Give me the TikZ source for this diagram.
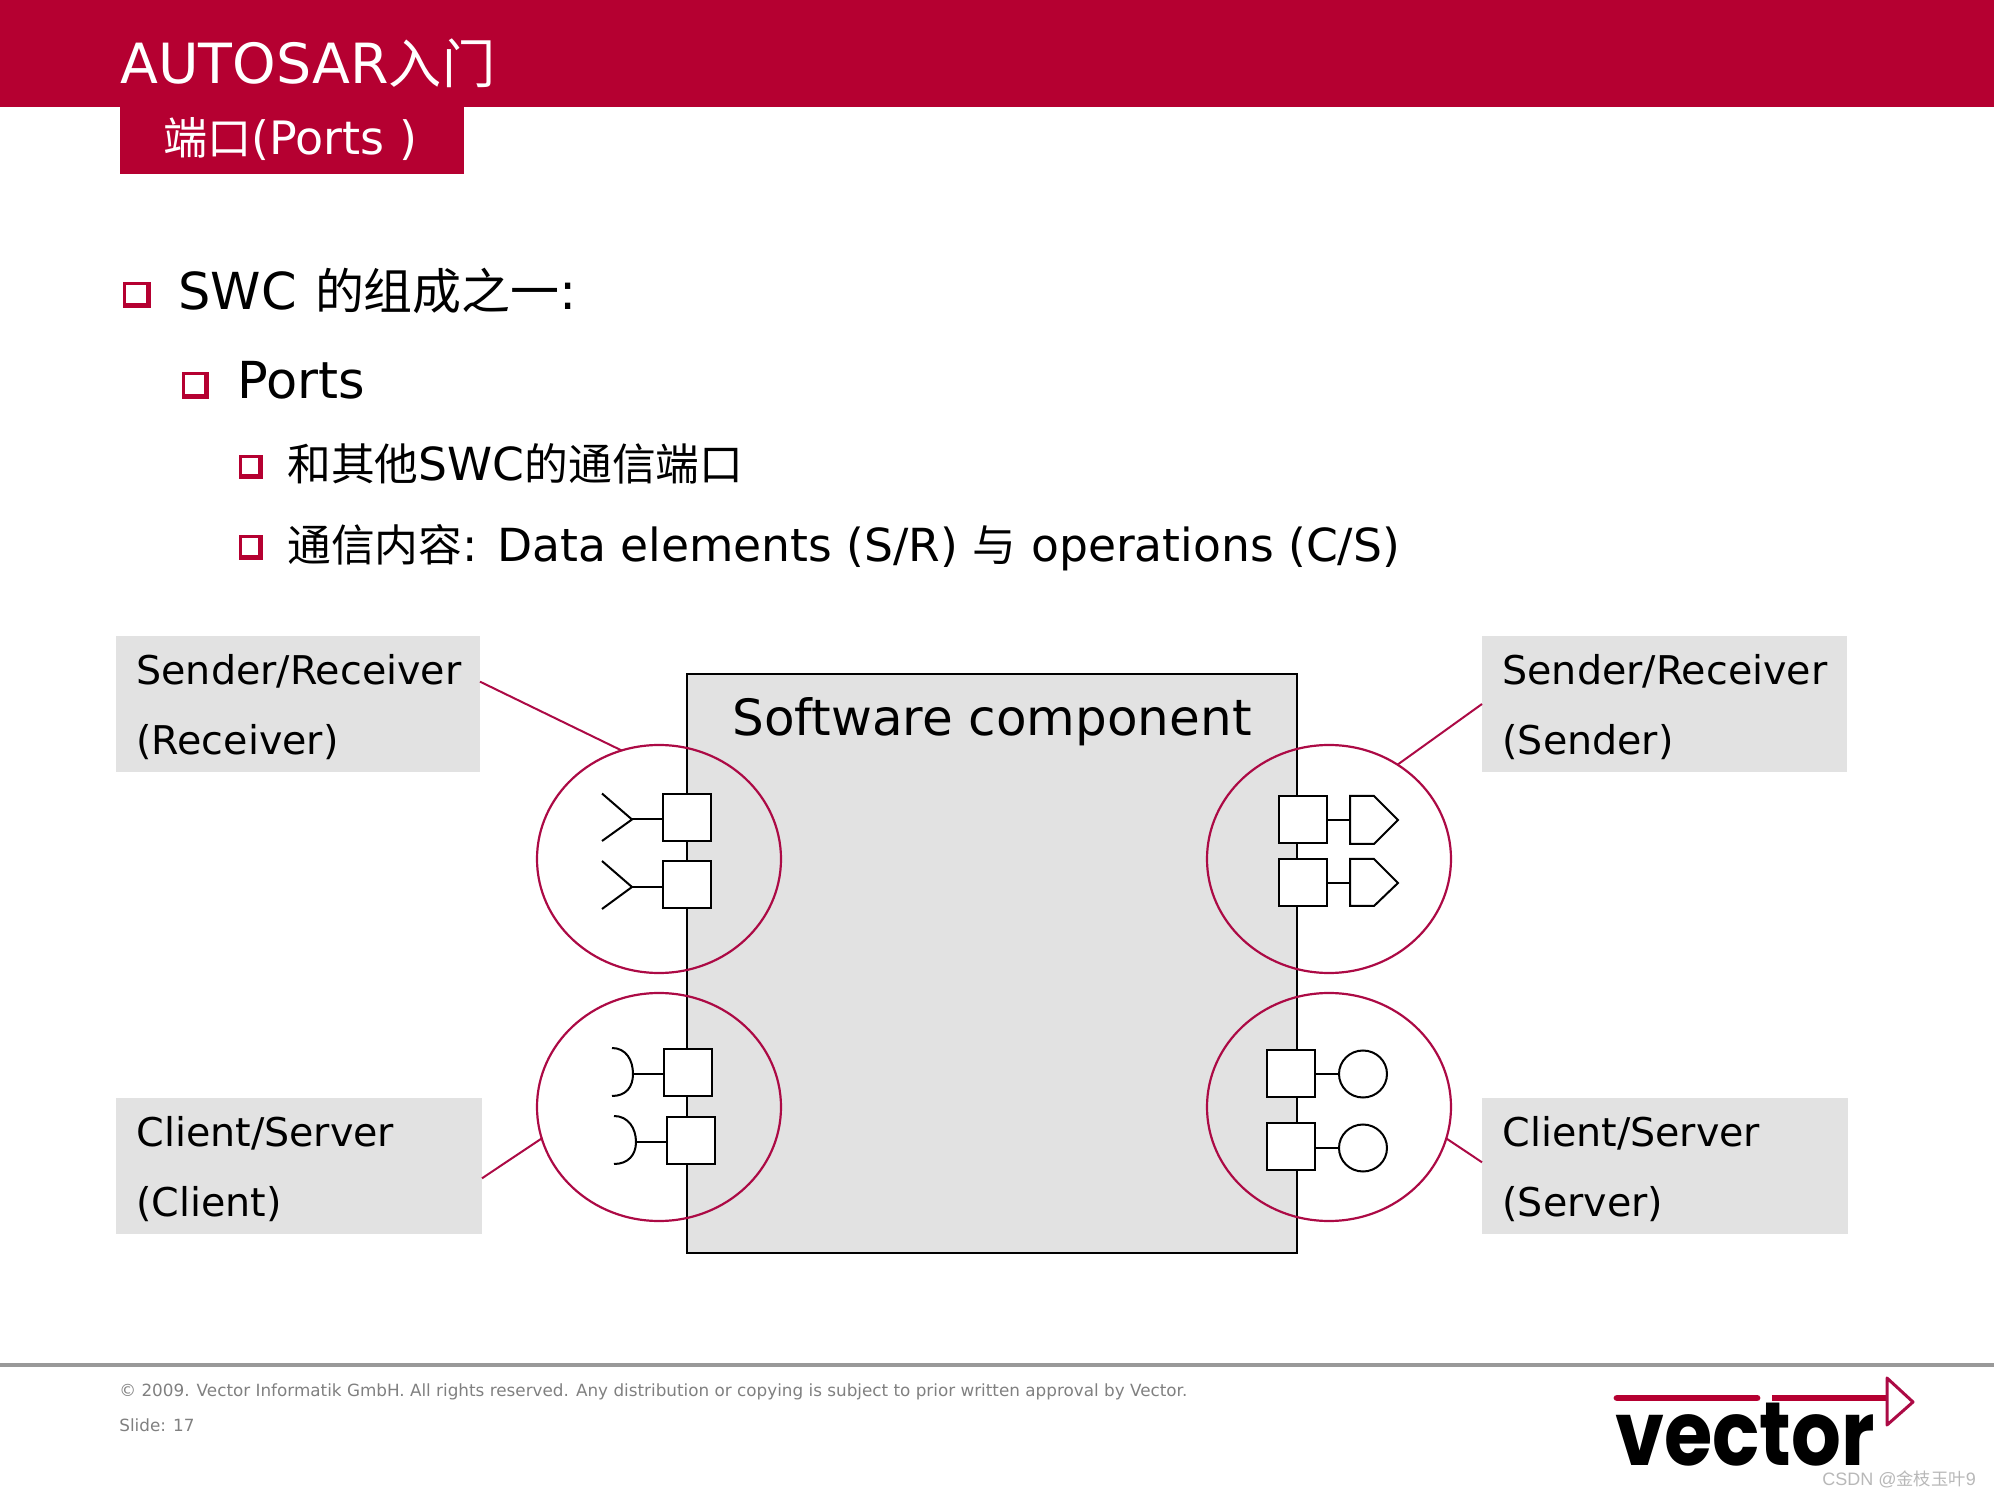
\documentclass[tikz,border=0pt]{standalone}
\usepackage{fontspec}
\usepackage{xcolor}
\setmainfont{DejaVu Sans}
\newfontfamily\cjk[Scale=0.96]{Noto Sans CJK SC}
\newfontfamily\logofont{Poppins}
\newfontfamily\markfont{Liberation Sans}
\usetikzlibrary{shapes.geometric}

\definecolor{bannerred}{HTML}{B50031}
\definecolor{ringred}{HTML}{AC0A45}
\definecolor{panelgray}{HTML}{E2E2E2}

\tikzset{
  titletext/.style={anchor=base west, inner sep=0pt, text=white},
  linetext/.style={anchor=base west, inner sep=0pt, text=black},
  swcbox/.style={draw=black, fill=panelgray, line width=1.2pt, minimum width=305pt, minimum height=289.5pt, inner sep=0pt, outer sep=0pt},
  ring/.style={draw=ringred, ellipse, line width=1.1pt, minimum width=122pt, minimum height=114pt, inner sep=0pt, outer sep=0pt},
  portbox/.style={draw=black, fill=white, line width=1pt, minimum width=24pt, minimum height=23.5pt, inner sep=0pt, outer sep=0pt},
  ballnode/.style={draw=black, fill=white, ellipse, line width=1pt, minimum width=24pt, minimum height=23.5pt, inner sep=0pt, outer sep=0pt},
  tagbox/.style={fill=panelgray, minimum width=182.5pt, minimum height=68pt, inner sep=0pt, outer sep=0pt},
  tagtext/.style={anchor=base west, inner sep=0pt, text=black, font=\fontsize{19.8}{20}\selectfont},
  wire/.style={draw=black, line width=1pt},
  redwire/.style={draw=ringred, line width=1pt},
  foot/.style={anchor=base west, inner sep=0pt, text=black!50, font=\fontsize{8.4}{10}\selectfont}
}

\begin{document}
\begin{tikzpicture}[x=0.5pt, y=-0.5pt]
  \useasboundingbox (0,0) rectangle (1994,1497);

  % Banner
  \fill[bannerred] (0,0) rectangle (1994,107);
  \fill[bannerred] (120,107) rectangle (464,174);
  \node (title) [titletext, font=\fontsize{27.7}{30}\selectfont] at (120,84) {AUTOSAR{\cjk 入门}};
  \node (subtitle) [titletext, font=\fontsize{23}{26}\selectfont] at (163,155) {{\cjk 端口}(Ports )};

  % Bullets
  \fill[bannerred] (123,282) rectangle (151,308);
  \fill[white] (126,285) rectangle (146,303);
  \fill[bannerred] (182,372) rectangle (209,399);
  \fill[white] (185,375) rectangle (204,394);
  \fill[bannerred] (239,455) rectangle (263,479);
  \fill[white] (242,458) rectangle (258,474);
  \fill[bannerred] (239,535) rectangle (263,560);
  \fill[white] (242,538) rectangle (258,555);

  \node (line1) [linetext, font=\fontsize{25.5}{28}\selectfont] at (178,310) {SWC\hspace{1pt} {\cjk 的组成之一}:};
  \node (line2) [linetext, font=\fontsize{25.5}{28}\selectfont] at (237,399) {Ports};
  \node (line3) [linetext, font=\fontsize{22.8}{26}\selectfont] at (287,481) {{\cjk 和其他}SWC{\cjk 的通信端口}};
  \node (line4) [linetext, font=\fontsize{22.8}{26}\selectfont] at (287,562) {{\cjk 通信内容}: Data elements (S/R) {\cjk 与} operations (C/S)};

  % Software component
  \node (swc) [swcbox] at (992,963.5) {};
  \node (swclabel) [anchor=base, inner sep=0pt, font=\fontsize{25}{28}\selectfont] at (992,736) {Software component};

  % Rings
  \node (ringRx) [ring] at (659,859) {};
  \node (ringCl) [ring] at (659,1107) {};
  \node (ringTx) [ring] at (1329,859) {};
  \node (ringSv) [ring] at (1329,1107) {};

  % Receiver ports
  \node (rx1) [portbox] at (687,818) {};
  \node (rx2) [portbox] at (687,885) {};
  \coordinate (rx1tip) at (632,819.5);
  \coordinate (rx2tip) at (632,887);
  \draw[wire] (rx1tip -| rx1.west) -- (rx1tip);
  \draw[wire] (602,793.5) -- (rx1tip) -- (602,841);
  \draw[wire] (rx2tip -| rx2.west) -- (rx2tip);
  \draw[wire] (602,861) -- (rx2tip) -- (602,909);

  % Client ports
  \node (cl1) [portbox] at (688,1072) {};
  \node (cl2) [portbox] at (691,1140) {};
  \coordinate (cl1tip) at (633,1074);
  \coordinate (cl2tip) at (636,1142);
  \draw[wire] (cl1tip -| cl1.west) -- (cl1tip);
  \draw[wire] (612,1048) .. controls (626,1048) and (633,1060) .. (cl1tip) .. controls (633,1087) and (626,1096) .. (612,1096);
  \draw[wire] (cl2tip -| cl2.west) -- (cl2tip);
  \draw[wire] (614,1116) .. controls (628,1116) and (636,1128) .. (cl2tip) .. controls (636,1155) and (628,1164) .. (614,1164);

  % Sender ports
  \node (tx1) [portbox] at (1303,820) {};
  \node (tx2) [portbox] at (1303,883) {};
  \coordinate (tx1flag) at (1350,820);
  \coordinate (tx2flag) at (1350,883);
  \draw[wire] (tx1.east) -- (tx1flag);
  \draw[wire, fill=white] (1350,796) -- (1374,796) -- (1398,820) -- (1374,844) -- (1350,844) -- cycle;
  \draw[wire] (tx2.east) -- (tx2flag);
  \draw[wire, fill=white] (1350,859) -- (1374,859) -- (1398,883) -- (1374,906) -- (1350,906) -- cycle;

  % Server ports
  \node (sv1) [portbox] at (1291,1073) {};
  \node (sv2) [portbox] at (1291,1146) {};
  \node (ball1) [ballnode] at (1363,1074) {};
  \node (ball2) [ballnode] at (1363,1148) {};
  \draw[wire] (sv1.east |- ball1) -- (ball1.west);
  \draw[wire] (sv2.east |- ball2) -- (ball2.west);

  % Tags
  \node (tagRx) [tagbox, minimum width=182pt] at (298,704) {};
  \node (tagCl) [tagbox, minimum width=183pt] at (299,1165.5) {};
  \node (tagTx) [tagbox] at (1664.5,704) {};
  \node (tagSv) [tagbox, minimum width=183pt] at (1665,1165.5) {};
  \node (tagRxa) [tagtext] at (136,685) {Sender/Receiver};
  \node (tagRxb) [tagtext] at (136,755) {(Receiver)};
  \node (tagCla) [tagtext] at (136,1146) {Client/Server};
  \node (tagClb) [tagtext] at (136,1216) {(Client)};
  \node (tagTxa) [tagtext] at (1502,685) {Sender/Receiver};
  \node (tagTxb) [tagtext] at (1502,755) {(Sender)};
  \node (tagSva) [tagtext] at (1502,1146) {Client/Server};
  \node (tagSvb) [tagtext] at (1502,1216) {(Server)};

  \draw[redwire] (tagRx.7.5) -- (ringRx.109.6);
  \draw[redwire] (tagCl.-4.8) -- (ringCl.195.3);
  \draw[redwire] (tagTx.180.2) -- (ringTx.54.8);
  \draw[redwire] (tagSv.179.2) -- (ringSv.-15);

  % Footer
  \draw[black!40, line width=1.8pt] (0,1365) -- (1994,1365);
  \node (copy) [foot] at (119,1396) {© 2009. Vector Informatik GmbH. All rights reserved. Any distribution or copying is subject to prior written approval by Vector.};
  \node (slide) [foot] at (119,1431) {Slide: 17};

  % Logo
  \draw[bannerred, line width=3.4pt, line cap=round] (1617,1398) -- (1757,1398);
  \draw[bannerred, line width=3.4pt] (1772,1398) -- (1887,1398);
  \draw[ringred, line width=1.5pt, line join=round] (1887,1378) -- (1913,1402) -- (1887,1425) -- cycle;
  \node (logo) [anchor=base west, inner sep=0pt, xscale=0.87, font=\logofont\bfseries\fontsize{45}{50}\selectfont] at (1615,1465) {vector};

  % Watermark
  \node (mark) [anchor=base west, inner sep=0pt, text=black!28, font=\markfont\fontsize{9}{11}\selectfont] at (1822,1485) {CSDN @{\cjk 金枝玉叶}9};

\end{tikzpicture}
\end{document}
